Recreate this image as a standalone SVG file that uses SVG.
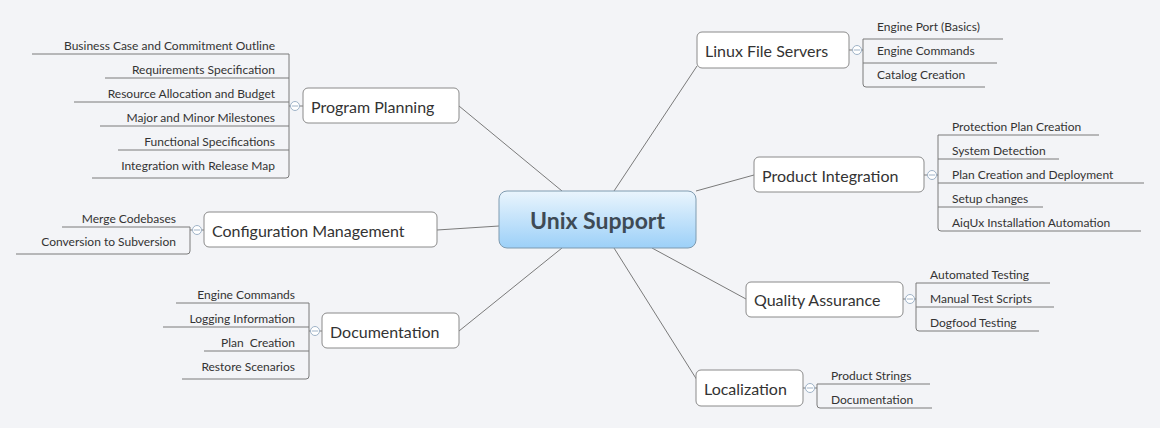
<svg xmlns="http://www.w3.org/2000/svg" width="1160" height="428" viewBox="0 0 1160 428">
<defs>
<linearGradient id="cg" x1="0" y1="0" x2="0" y2="1"><stop offset="0" stop-color="#eaf5fd"/><stop offset="1" stop-color="#9cd0f8"/></linearGradient>
<style>
.n{fill:#fff;stroke:#8a8a8a;stroke-width:1}
.t{font-family:Lato,"Open Sans",sans-serif;font-size:16px;fill:#333;dominant-baseline:central}
.l{font-family:Lato,"Open Sans",sans-serif;font-size:12px;fill:#333}
.r{text-anchor:end}
.c{stroke:#7a7a7a;stroke-width:1;fill:none}
.b{stroke:#7a7a7a;stroke-width:1;fill:none}
.k{fill:#fff;stroke:#9fb3c8;stroke-width:1}
</style>
</defs>
<rect width="1160" height="428" fill="#f3f4f7"/>
<g id="connectors">
<line class="c" x1="614" y1="191" x2="697" y2="66"/>
<line class="c" x1="696" y1="191" x2="754" y2="175"/>
<line class="c" x1="652" y1="248" x2="746" y2="299"/>
<line class="c" x1="614" y1="248" x2="697" y2="380"/>
<line class="c" x1="562" y1="191" x2="459" y2="106"/>
<line class="c" x1="499" y1="226" x2="437" y2="230"/>
<line class="c" x1="562" y1="248" x2="459" y2="331"/>
<line class="c" x1="849" y1="50" x2="863" y2="50"/>
<line class="c" x1="924" y1="175" x2="938" y2="175"/>
<line class="c" x1="903" y1="299" x2="916" y2="299"/>
<line class="c" x1="803" y1="388" x2="817" y2="388"/>
<line class="c" x1="303" y1="106" x2="289" y2="106"/>
<line class="c" x1="204" y1="230" x2="190" y2="230"/>
<line class="c" x1="322" y1="331" x2="309" y2="331"/>
</g>
<g id="center"><rect x="499" y="191" width="197" height="57" rx="8" fill="url(#cg)" stroke="#7f9bb0"/><text x="597.5" y="220" text-anchor="middle" dominant-baseline="central" style="font-family:Lato,'Open Sans',sans-serif;font-weight:bold;font-size:23px;fill:#3e4a55">Unix Support</text></g>

<g id="linux"><rect class="n" x="697" y="32" width="152" height="36" rx="5"/><text class="t" x="705" y="50">Linux File Servers</text>
<path class="b" d="M863 39V84Q863 87 866 87H985M863 39H1003M863 63H997"/>
<text class="l" x="877" y="31">Engine Port (Basics)</text><text class="l" x="877" y="55">Engine Commands</text><text class="l" x="877" y="79">Catalog Creation</text>
<circle class="k" cx="857" cy="50" r="4.5"/><line x1="854" y1="50" x2="860" y2="50" stroke="#9fb3c8"/></g>

<g id="product"><rect class="n" x="754" y="157" width="170" height="35" rx="5"/><text class="t" x="762" y="175">Product Integration</text>
<path class="b" d="M938 135V228Q938 231 941 231H1141M938 135H1099M938 159H1059M938 183H1144M938 207H1043"/>
<text class="l" x="952" y="131">Protection Plan Creation</text><text class="l" x="952" y="155">System Detection</text><text class="l" x="952" y="179">Plan Creation and Deployment</text><text class="l" x="952" y="203">Setup changes</text><text class="l" x="952" y="227">AiqUx Installation Automation</text>
<circle class="k" cx="932" cy="175" r="4.5"/><line x1="929" y1="175" x2="935" y2="175" stroke="#9fb3c8"/></g>

<g id="qa"><rect class="n" x="746" y="282" width="157" height="35" rx="5"/><text class="t" x="754" y="299">Quality Assurance</text>
<path class="b" d="M916 283V328Q916 331 919 331H1039M916 283H1050M916 307H1054"/>
<text class="l" x="930" y="279">Automated Testing</text><text class="l" x="930" y="303">Manual Test Scripts</text><text class="l" x="930" y="327">Dogfood Testing</text>
<circle class="k" cx="910" cy="299" r="4.5"/><line x1="907" y1="299" x2="913" y2="299" stroke="#9fb3c8"/></g>

<g id="localization"><rect class="n" x="696" y="370" width="107" height="36" rx="5"/><text class="t" x="704" y="388">Localization</text>
<path class="b" d="M817 384V405Q817 408 820 408H932M817 384H930"/>
<text class="l" x="831" y="380">Product Strings</text><text class="l" x="831" y="404">Documentation</text>
<circle class="k" cx="810" cy="388" r="4.5"/><line x1="807" y1="388" x2="813" y2="388" stroke="#9fb3c8"/></g>

<g id="planning"><rect class="n" x="303" y="88" width="156" height="35" rx="5"/><text class="t" x="311" y="106">Program Planning</text>
<path class="b" d="M289 54V175Q289 178 286 178H92M289 54H32M289 78H105M289 102H74M289 126H100M289 150H118"/>
<text class="l r" x="275" y="50">Business Case and Commitment Outline</text><text class="l r" x="275" y="74">Requirements Specification</text><text class="l r" x="275" y="98">Resource Allocation and Budget</text><text class="l r" x="275" y="122">Major and Minor Milestones</text><text class="l r" x="275" y="146">Functional Specifications</text><text class="l r" x="275" y="170">Integration with Release Map</text>
<circle class="k" cx="295" cy="106" r="4.5"/><line x1="292" y1="106" x2="298" y2="106" stroke="#9fb3c8"/></g>

<g id="config"><rect class="n" x="204" y="212" width="233" height="35" rx="5"/><text class="t" x="212" y="230">Configuration Management</text>
<path class="b" d="M190 227V251Q190 254 187 254H16M190 227H62"/>
<text class="l r" x="176" y="223">Merge Codebases</text><text class="l r" x="176" y="246">Conversion to Subversion</text>
<circle class="k" cx="197" cy="230" r="4.5"/><line x1="194" y1="230" x2="200" y2="230" stroke="#9fb3c8"/></g>

<g id="documentation"><rect class="n" x="322" y="313" width="137" height="35" rx="5"/><text class="t" x="330" y="331">Documentation</text>
<path class="b" d="M309 303V376Q309 379 306 379H182M309 303H176M309 327H163M309 351H204"/>
<text class="l r" x="295" y="299">Engine Commands</text><text class="l r" x="295" y="323">Logging Information</text><text class="l r" x="295" y="347" xml:space="preserve">Plan  Creation</text><text class="l r" x="295" y="371">Restore Scenarios</text>
<circle class="k" cx="315" cy="331" r="4.5"/><line x1="312" y1="331" x2="318" y2="331" stroke="#9fb3c8"/></g>
</svg>
